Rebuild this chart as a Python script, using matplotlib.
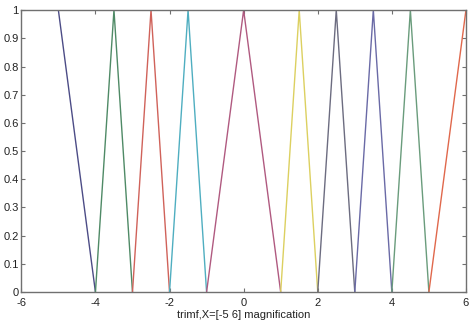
import matplotlib
matplotlib.use('Agg')
import matplotlib.pyplot as plt

# trimf membership functions, params [a b c], shown over X = [-5 6]
mf_x = [
    [-5, -4],
    [-4, -3.5, -3],
    [-3, -2.5, -2],
    [-2, -1.5, -1],
    [-1, 0, 1],
    [1, 1.5, 2],
    [2, 2.5, 3],
    [3, 3.5, 4],
    [4, 4.5, 5],
    [5, 6],
]
mf_y = [
    [1, 0],
    [0, 1, 0],
    [0, 1, 0],
    [0, 1, 0],
    [0, 1, 0],
    [0, 1, 0],
    [0, 1, 0],
    [0, 1, 0],
    [0, 1, 0],
    [0, 1],
]
# old matlab order b g r c m y k b g r (faded like the scan)
colors = ['#4c4c86', '#4f8a66', '#d0625a', '#4faec0', '#b05a80',
          '#dcd060', '#6c6c80', '#6a6aa6', '#6a9c7c', '#e0684c']

xticks = [-6, -4, -2, 0, 2, 4, 6]
yticks = [0, 0.1, 0.2, 0.3, 0.4, 0.5, 0.6, 0.7, 0.8, 0.9, 1]

plt.rcParams['font.family'] = ['Liberation Sans', 'DejaVu Sans']
fig = plt.figure(figsize=(4.74, 3.26), dpi=100)
ax = fig.add_axes([0.045, 0.104, 0.938, 0.865])

for xs, ys, c in zip(mf_x, mf_y, colors):
    ax.plot(xs, ys, color=c, lw=1.0)

ax.set_xlim(-6, 6)
ax.set_ylim(0, 1)
ax.set_xticks(xticks)
ax.set_yticks(yticks)
ax.set_xticklabels([str(t) for t in xticks])
ax.set_yticklabels(['0'] + ['%g' % t for t in yticks[1:-1]] + ['1'])
ax.tick_params(direction='in', length=3, width=0.8, colors='#707070',
               labelcolor='#222222', labelsize=8, top=True, right=True)
ax.tick_params(axis='x', pad=4)
ax.tick_params(axis='y', pad=2)
for s in ax.spines.values():
    s.set_color('#707070')
    s.set_linewidth(1.0)
ax.set_xlabel('trimf,X=[-5 6] magnification', fontsize=8, color='#222222', labelpad=2)

fig.savefig('out.png', dpi=100)
